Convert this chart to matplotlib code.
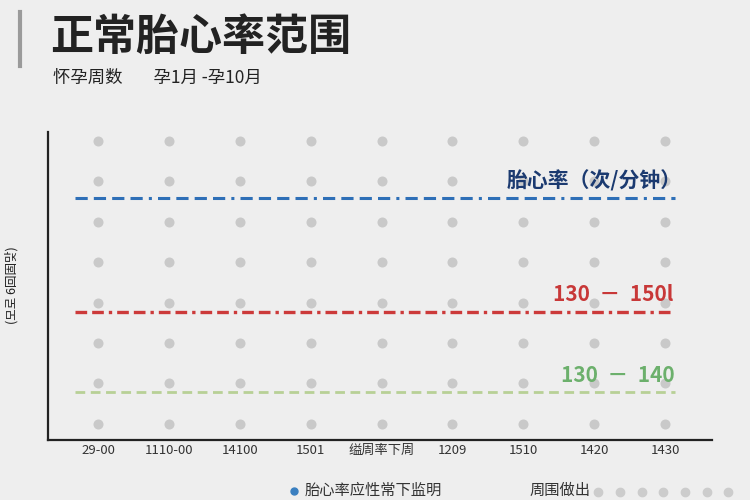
import matplotlib
matplotlib.use("Agg")
import matplotlib.pyplot as plt
import numpy as np

plt.rcParams['font.family'] = ['Noto Sans CJK SC', 'DejaVu Sans']

# ---- data ----
x_labels = ["29-00", "1110-00", "14100", "1501", "缢周率下周", "1209", "1510", "1420", "1430"]
grid_rows = [0, 1, 2, 3, 4, 5, 6, 7]
line_levels = [5.59, 2.77, 0.79]
line_names = ["胎心率（次/分钟）", "130  －  150l", "130  －  140"]
line_colors = ["#2e6fb7", "#cc3a3a", "#b8d096"]
text_colors = ["#1b3a70", "#c83838", "#6cb06c"]
title = "正常胎心率范围"
subtitle = "怀孕周数        孕1月 -孕10月"
ylabel = "(모로 6回固맞)"
legend_items = ["胎心率应性常下监明", "周围做出"]

BG = "#eeeeee"
fig = plt.figure(figsize=(7.5, 5), dpi=100, facecolor=BG)
ax = fig.add_axes([48/750, 1-440/500, (712-48)/750, (440-132)/500], facecolor=BG)

xs = np.arange(len(x_labels))
X, Y = np.meshgrid(xs, grid_rows)
ax.scatter(X.ravel(), Y.ravel(), s=52, color="#c9c9c9", zorder=1, linewidths=0)

dashes = [(0, (4, 2, 4, 2, 4, 2, 4, 2, 1, 2)), (0, (3.5, 1.5, 3.5, 1.5, 1, 1.5)), (0, (3.5, 2))]
widths = [2.2, 2.4, 2.0]
for lv, c, d, w in zip(line_levels, line_colors, dashes, widths):
    ax.plot([-0.32, 8.14], [lv, lv], color=c, linestyle=d, linewidth=w, zorder=2)

offsets = [0.43, 0.42, 0.4]
xends = [8.24, 8.11, 8.13]
for lv, name, tc, off, xe in zip(line_levels, line_names, text_colors, offsets, xends):
    ax.text(xe, lv + off, name, color=tc, fontsize=15, fontweight='bold',
            ha='right', va='center', zorder=3)

ax.set_xlim(-0.705, 8.66)
ax.set_ylim(-0.40, 7.22)
ax.set_xticks(xs)
ax.set_xticklabels(x_labels, fontsize=9.5, color="#333333")
ax.set_yticks([])
ax.tick_params(axis='x', length=0, pad=3)
for s in ['top', 'right']:
    ax.spines[s].set_visible(False)
for s in ['left', 'bottom']:
    ax.spines[s].set_linewidth(1.6)
    ax.spines[s].set_color("#222222")

fig.text(12/750, 1-285/500, ylabel, rotation=90, fontsize=9, color="#222222",
         ha='center', va='center')

# title and subtitle
fig.add_artist(plt.Line2D([20/750, 20/750], [1-12/500, 1-66/500], color="#9a9a9a", linewidth=3))
fig.text(50/750, 1-37/500, title, fontsize=31, fontweight='bold', color="#222222",
         ha='left', va='center')
fig.text(53/750, 1-78/500, subtitle, fontsize=12.5, color="#222222", ha='left', va='center')

# bottom legend
fig.add_artist(plt.Line2D([294/750], [1-491/500], marker='o', markersize=5,
                          color="#3a7fc0", linestyle='none'))
fig.text(305/750, 1-499/500, legend_items[0], fontsize=11, color="#333333", ha='left', va='bottom')
fig.text(530/750, 1-499/500, legend_items[1], fontsize=11, color="#333333", ha='left', va='bottom')
for px in [598, 620, 642, 663, 685, 707, 728]:
    fig.add_artist(plt.Line2D([px/750], [1-492/500], marker='o', markersize=6,
                              color="#cccccc", linestyle='none'))

fig.savefig("out.png", dpi=100, facecolor=BG)
